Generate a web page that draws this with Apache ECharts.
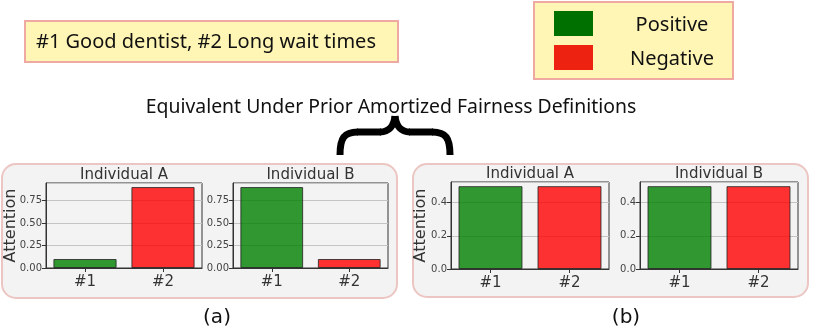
<!DOCTYPE html>
<html>
<head>
<meta charset="utf-8">
<script src="https://cdn.jsdelivr.net/npm/echarts@6/dist/echarts.min.js"></script>
<style>
  html, body { margin: 0; padding: 0; background: #fff; }
  #main { width: 814px; height: 329px; }
</style>
</head>
<body>
<div id="main"></div>
<script>
// categories and values
const categories = ['#1', '#2'];
const panelATitles = ['Individual A', 'Individual B'];
const attnPanelA_indA = [0.1, 0.9];
const attnPanelA_indB = [0.9, 0.1];
const attnPanelB_indA = [0.5, 0.5];
const attnPanelB_indB = [0.5, 0.5];
const barColors = ['#008000', '#ff0000'];   // positive, negative
const legendNames = ['Positive', 'Negative'];
const legendColors = ['#007000', '#ee2211'];

const chart = echarts.init(document.getElementById('main'));

const grids = [
  {left: 46, top: 183, width: 156, height: 85},
  {left: 233, top: 183, width: 155, height: 85},
  {left: 451, top: 182, width: 158, height: 87},
  {left: 640, top: 182, width: 158, height: 87},
];

function yAxis(idx, max, interval, digits, nameGap) {
  return {
    type: 'value', gridIndex: idx, min: 0, max: max, interval: interval,
    name: nameGap ? 'Attention' : '',
    nameLocation: 'middle', nameGap: nameGap || 0, nameRotate: 90,
    nameMoveOverlap: false,
    nameTextStyle: {fontFamily: 'DejaVu Sans', fontSize: 16, color: '#333'},
    axisLine: {show: true, lineStyle: {color: '#333'}},
    axisTick: {show: true, length: 4, lineStyle: {color: '#333'}},
    axisLabel: {
      fontFamily: 'DejaVu Sans', fontSize: 10, color: '#444', margin: 4,
      showMaxLabel: false,
      formatter: v => v.toFixed(digits)
    },
    splitLine: {show: true, lineStyle: {color: '#c4c4c4', width: 1}}
  };
}

function xAxis(idx) {
  return {
    type: 'category', gridIndex: idx, data: categories,
    axisLine: {show: true, lineStyle: {color: '#333'}},
    axisTick: {show: true, alignWithLabel: true, length: 4, lineStyle: {color: '#333'}},
    axisLabel: {fontFamily: 'DejaVu Sans', fontSize: 15, color: '#333', margin: 7}
  };
}

function barSeries(idx, values) {
  return {
    type: 'bar', xAxisIndex: idx, yAxisIndex: idx, barWidth: '81%',
    data: values.map((v, i) => ({
      value: v,
      itemStyle: {color: barColors[i], opacity: 0.8, borderColor: '#222', borderWidth: 1}
    })),
    emphasis: {disabled: true}
  };
}

const subTitles = grids.map((g, i) => ({
  type: 'text', z: 5,
  x: g.left + g.width / 2, y: g.top - 8,
  style: {text: panelATitles[i % 2], font: '15px "DejaVu Sans"', fill: '#333', align: 'center', verticalAlign: 'middle'}
}));

// curly brace under the heading
const braceStyle = {fill: null, stroke: '#000', lineWidth: 7};
const brace = [
  {type: 'bezierCurve', shape: {x1: 340, y1: 155, cpx1: 340, cpy1: 138, cpx2: 344, cpy2: 132, x2: 358, y2: 132}, style: braceStyle},
  {type: 'line', shape: {x1: 357, y1: 132, x2: 381, y2: 132}, style: braceStyle},
  {type: 'bezierCurve', shape: {x1: 380, y1: 132, cpx1: 389, cpy1: 132, cpx2: 394, cpy2: 126, x2: 395, y2: 116}, style: braceStyle},
  {type: 'bezierCurve', shape: {x1: 395, y1: 116, cpx1: 396, cpy1: 126, cpx2: 401, cpy2: 132, x2: 410, y2: 132}, style: braceStyle},
  {type: 'line', shape: {x1: 409, y1: 132, x2: 433, y2: 132}, style: braceStyle},
  {type: 'bezierCurve', shape: {x1: 432, y1: 132, cpx1: 446, cpy1: 132, cpx2: 450, cpy2: 138, x2: 450, y2: 155}, style: braceStyle},
];

let option = {
  animation: false,
  grid: grids.map(g => Object.assign({show: true, borderColor: '#333', borderWidth: 1, backgroundColor: 'transparent'}, g)),
  xAxis: [xAxis(0), xAxis(1), xAxis(2), xAxis(3)],
  yAxis: [
    yAxis(0, 0.945, 0.25, 2, 27),
    yAxis(1, 0.945, 0.25, 2, 0),
    yAxis(2, 0.525, 0.2, 1, 22),
    yAxis(3, 0.525, 0.2, 1, 0),
  ],
  series: [
    barSeries(0, attnPanelA_indA),
    barSeries(1, attnPanelA_indB),
    barSeries(2, attnPanelB_indA),
    barSeries(3, attnPanelB_indB),
  ],
  graphic: [
    // panel backgrounds
    {type: 'rect', z: -10, shape: {x: 2, y: 164, width: 395, height: 134, r: 14},
      style: {fill: '#f3f3f3', stroke: '#ecc6c2', lineWidth: 2}},
    {type: 'rect', z: -10, shape: {x: 413, y: 164, width: 395, height: 133, r: 14},
      style: {fill: '#f3f3f3', stroke: '#ecc6c2', lineWidth: 2}},
    // note box
    {type: 'rect', shape: {x: 25, y: 21, width: 373, height: 41},
      style: {fill: '#fff5b5', stroke: '#eeaaa2', lineWidth: 2}},
    {type: 'text', x: 36, y: 42,
      style: {text: '#1 Good dentist, #2 Long wait times', font: '20px "Noto Sans"', fill: '#111', verticalAlign: 'middle'}},
    // legend box
    {type: 'rect', shape: {x: 534, y: 2, width: 199, height: 77},
      style: {fill: '#fff5b5', stroke: '#eeaaa2', lineWidth: 2}},
    {type: 'rect', shape: {x: 554, y: 11, width: 39, height: 25}, style: {fill: legendColors[0]}},
    {type: 'rect', shape: {x: 554, y: 45, width: 39, height: 25}, style: {fill: legendColors[1]}},
    {type: 'text', x: 672, y: 25,
      style: {text: legendNames[0], font: '20px "Noto Sans"', fill: '#111', align: 'center', verticalAlign: 'middle'}},
    {type: 'text', x: 672, y: 59,
      style: {text: legendNames[1], font: '20px "Noto Sans"', fill: '#111', align: 'center', verticalAlign: 'middle'}},
    // heading
    {type: 'text', x: 391, y: 107,
      style: {text: 'Equivalent Under Prior Amortized Fairness Definitions', font: '19.4px "Noto Sans"', fill: '#111', align: 'center', verticalAlign: 'middle'}},
    // panel captions
    {type: 'text', x: 217, y: 318,
      style: {text: '(a)', font: '20px "DejaVu Sans"', fill: '#111', align: 'center', verticalAlign: 'middle'}},
    {type: 'text', x: 626, y: 318,
      style: {text: '(b)', font: '20px "DejaVu Sans"', fill: '#111', align: 'center', verticalAlign: 'middle'}},
  ].concat(brace, subTitles)
};
chart.setOption(option);
window.addEventListener('resize', () => chart.resize());
</script>
</body>
</html>
